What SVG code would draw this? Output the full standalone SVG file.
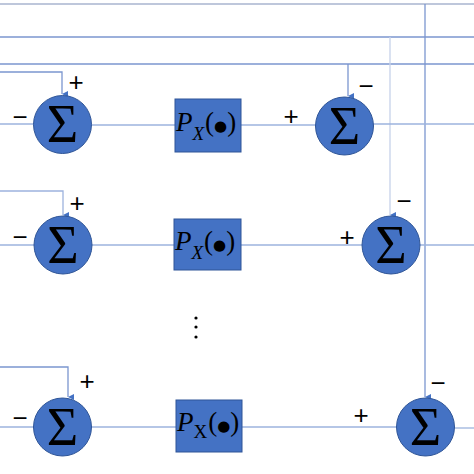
<svg xmlns="http://www.w3.org/2000/svg" width="474" height="474" viewBox="0 0 474 474">
<defs>
<style>
.ln{stroke:#7b96cf;stroke-width:1.3;fill:none}
.lt{stroke:#9db3de;stroke-width:1.3;fill:none}
.sum{fill:#4472c4;stroke:#2f5597;stroke-width:1}
.box{fill:#4472c4;stroke:#2f5597;stroke-width:1}
.sig{font-family:"Liberation Serif",serif;font-size:54px;fill:#000;text-anchor:middle}
.sg{font-family:"Liberation Sans",sans-serif;font-size:26px;fill:#000;text-anchor:middle}
.p{font-family:"Liberation Serif",serif;font-size:27px;fill:#000}
.b{font-family:"DejaVu Sans",sans-serif;font-size:15px}
</style>
<marker id="ah" viewBox="0 0 8 8" refX="4" refY="8" markerWidth="6" markerHeight="6" orient="auto-start-reverse" markerUnits="userSpaceOnUse"><path d="M0,0 L8,0 L4,8 z" fill="#4472c4"/></marker>
</defs>
<rect width="474" height="474" fill="#fff"/>
<g id="connectors">
<line x1="0" y1="4" x2="474" y2="4" stroke="#a8b4cf" stroke-width="1.6"/>
<line x1="0" y1="37" x2="474" y2="37" class="ln"/>
<line x1="0" y1="64" x2="474" y2="64" class="ln"/>
<line x1="425" y1="4" x2="425" y2="397" class="ln" marker-end="url(#ah)"/>
<line x1="390" y1="37" x2="390" y2="215" stroke="#c6d2ea" stroke-width="1.3" marker-end="url(#ah)"/>
<line x1="348" y1="64" x2="348" y2="96" class="ln" marker-end="url(#ah)"/>
<path d="M0,72 H62 V94" class="ln" marker-end="url(#ah)"/>
<path d="M0,191 H63 V215" class="lt" marker-end="url(#ah)"/>
<path d="M0,367 H68 V397" class="ln" marker-end="url(#ah)"/>
<line x1="0" y1="124" x2="34" y2="124" class="lt"/>
<line x1="91" y1="125" x2="175" y2="125" class="lt"/>
<line x1="241" y1="125" x2="316" y2="125" class="lt"/>
<line x1="373" y1="124" x2="474" y2="124" class="lt"/>
<line x1="0" y1="245" x2="35" y2="245" class="lt"/>
<line x1="91" y1="245" x2="174" y2="245" class="lt"/>
<line x1="241" y1="245" x2="363" y2="245" class="lt"/>
<line x1="419" y1="245" x2="474" y2="245" class="lt"/>
<line x1="0" y1="427" x2="34" y2="427" class="lt"/>
<line x1="91" y1="427" x2="176" y2="427" class="lt"/>
<line x1="242" y1="427" x2="397" y2="427" class="lt"/>
<line x1="454" y1="428" x2="474" y2="428" class="lt"/>
</g>
<g id="sum11"><circle cx="62.5" cy="124.5" r="29" class="sum"/><text x="62.5" y="142" class="sig">Σ</text></g>
<g id="sum12"><circle cx="344.5" cy="126" r="29" class="sum"/><text x="344.5" y="143.5" class="sig">Σ</text></g>
<g id="sum21"><circle cx="63" cy="245" r="29" class="sum"/><text x="63" y="262.5" class="sig">Σ</text></g>
<g id="sum22"><circle cx="391" cy="245" r="29" class="sum"/><text x="391" y="262.5" class="sig">Σ</text></g>
<g id="sum31"><circle cx="62.5" cy="427" r="29" class="sum"/><text x="62.5" y="444.5" class="sig">Σ</text></g>
<g id="sum32"><circle cx="425.5" cy="427" r="29" class="sum"/><text x="425.5" y="444.5" class="sig">Σ</text></g>
<g id="px1"><rect x="175" y="99" width="66" height="53" class="box"/><text x="176" y="131" class="p"><tspan font-style="italic">P</tspan><tspan font-style="italic" font-size="19" dy="9">X</tspan><tspan dx="1" dy="-9">(<tspan class="b">●</tspan>)</tspan></text></g>
<g id="px2"><rect x="174" y="219" width="67" height="51" class="box"/><text x="175" y="250" class="p"><tspan font-style="italic">P</tspan><tspan font-style="italic" font-size="19" dy="9">X</tspan><tspan dx="1" dy="-9">(<tspan class="b">●</tspan>)</tspan></text></g>
<g id="px3"><rect x="176" y="400" width="66" height="52" class="box"/><text x="177" y="431" class="p"><tspan font-style="italic">P</tspan><tspan font-size="19" dy="7">X</tspan><tspan dx="1" dy="-7">(<tspan class="b">●</tspan>)</tspan></text></g>
<g id="labels">
<text x="20" y="126" class="sg">−</text>
<text x="76" y="91" class="sg">+</text>
<text x="291" y="125" class="sg">+</text>
<text x="366" y="95" class="sg">−</text>
<text x="20" y="246" class="sg">−</text>
<text x="77" y="212" class="sg">+</text>
<text x="347" y="246" class="sg">+</text>
<text x="404" y="210" class="sg">−</text>
<text x="20" y="427" class="sg">−</text>
<text x="87" y="390" class="sg">+</text>
<text x="361" y="424" class="sg">+</text>
<text x="438" y="392" class="sg">−</text>
</g>
<g id="dots" fill="#000"><circle cx="196" cy="318" r="1.6"/><circle cx="196" cy="327" r="1.6"/><circle cx="196" cy="337" r="1.6"/></g>
</svg>
